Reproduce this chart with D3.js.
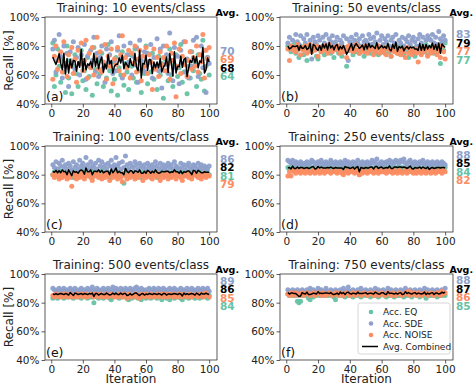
<!DOCTYPE html>
<html>
<head>
<meta charset="utf-8">
<script src="https://cdn.jsdelivr.net/npm/d3@7"></script>
<style>
  body { margin: 0; background: #fff; }
  svg { font-family: "DejaVu Sans", sans-serif; }
</style>
</head>
<body>
<div id="chart-area"></div>
<script>

// ---- DATA ----

let trainSizes = [10, 50, 100, 250, 500, 750];
let panelLetters = ["(a)", "(b)", "(c)", "(d)", "(e)", "(f)"];
let yTicks = [40, 60, 80, 100];
let xTicks = [0, 20, 40, 60, 80, 100];

// averages printed at the right of each panel
let avgEQ    = [64, 77, 81, 84, 84, 85];
let avgSDE   = [70, 83, 86, 88, 89, 88];
let avgNOISE = [69, 77, 79, 82, 85, 86];
let avgComb  = [68, 79, 82, 85, 86, 87];

// 10 events/class
let eq10 = [82,52,60,78,66,55,71,62,48,80, 58,70,47,66,74,61,52,68,77,56, 63,50,72,59,66,46,79,64,54,70,
  61,75,52,67,58,81,63,49,69,57, 72,46,65,60,76,53,68,62,50,74, 66,58,78,55,63,70,48,67,61,80,
  54,69,62,75,57,65,50,73,60,68, 44,71,63,56,78,60,52,67,74,59, 65,81,55,62,70,47,66,58,76,63,
  69,52,74,61,57,84,49,66,72,60];
let sde10 = [78,84,62,70,88,73,58,80,66,75, 52,76,69,83,64,72,79,60,74,68, 81,57,73,66,77,70,86,62,75,59,
  72,80,65,55,78,68,74,83,61,70, 63,77,87,71,58,80,66,74,69,82, 60,73,67,79,55,84,70,64,76,62,
  75,69,81,58,72,66,85,63,78,51, 80,67,74,61,89,70,56,79,65,73, 54,77,68,83,62,71,58,76,66,84,
  70,86,59,74,80,65,77,48,72,68];
let noise10 = [57,73,80,64,70,76,62,83,68,59, 74,66,79,61,71,55,77,68,82,63, 70,84,58,75,65,79,60,72,86,64,
  76,62,69,81,57,73,66,78,54,71, 67,79,63,74,87,60,72,65,77,58, 75,68,80,62,71,77,56,73,66,79,
  61,74,69,50,78,64,72,59,76,67, 72,63,80,68,57,75,70,82,45,66, 78,61,73,67,83,59,70,76,64,72,
  66,80,62,74,69,88,58,77,71,79];

// 50 events/class
let eq50 = [80,78,76,79,81,75,77,72,80,78, 74,79,70,77,80,76,78,81,73,71, 78,76,80,74,79,77,81,75,78,72,
  79,77,75,80,73,78,76,66,79,77, 80,74,78,76,81,75,79,77,73,80, 77,79,75,81,78,76,80,74,78,77,
  79,75,78,80,76,73,79,77,81,75, 78,80,76,74,79,77,72,80,78,76, 73,79,77,80,75,78,76,81,74,79,
  77,80,75,78,76,79,68,81,77,82];
let sde50 = [82,86,80,84,79,88,83,81,87,78, 85,82,88,80,84,71,86,83,81,87, 84,79,86,82,88,80,85,83,87,81,
  83,86,80,84,82,87,79,85,70,83, 86,81,84,88,82,85,80,87,83,84, 82,88,85,81,86,83,89,80,84,87,
  81,85,83,87,80,84,86,82,88,79, 84,82,86,80,85,83,87,81,84,86, 83,80,85,88,82,86,79,84,87,85,
  84,88,82,86,81,90,85,83,87,84];
let noise50 = [78,70,80,77,79,76,81,78,74,79, 77,80,75,78,81,76,79,77,80,73, 79,76,78,80,77,75,81,78,76,79,
  78,80,77,75,79,76,78,72,80,77, 79,76,78,81,77,75,79,78,76,80, 75,78,77,79,74,76,78,80,75,77,
  76,79,74,78,77,73,78,76,79,75, 77,74,78,76,72,79,75,77,74,76, 78,75,69,77,74,79,76,78,73,77,
  75,78,76,79,74,77,72,80,76,71];

// 100 events/class
let eq100 = [80,82,79,81,83,78,82,80,81,79, 82,80,83,78,81,82,79,80,83,81, 79,82,80,81,83,78,82,80,81,82,
  80,83,79,81,82,80,78,82,81,80, 83,81,79,82,80,74,81,83,80,82, 81,79,82,80,83,81,78,82,80,81,
  82,80,81,83,79,82,78,81,80,82, 81,83,80,82,79,81,82,80,83,81, 80,82,81,79,83,80,82,81,79,82,
  81,80,83,82,80,81,79,82,81,80];
let sde100 = [87,85,89,84,88,86,90,85,87,84, 88,86,83,89,85,87,84,90,86,88, 85,92,87,84,89,86,85,88,84,90,
  86,89,85,87,84,88,86,90,85,87, 92,86,88,84,89,85,93,87,84,88, 86,85,89,87,84,88,86,85,87,84,
  88,86,84,87,85,89,86,84,88,85, 87,84,86,88,85,87,84,89,86,85, 84,88,85,87,83,86,88,85,84,87,
  86,84,88,85,87,84,86,85,84,86];
let noise100 = [80,78,81,79,77,80,78,81,79,77, 80,78,72,81,79,77,80,78,81,79, 77,80,79,81,78,76,80,79,81,78,
  79,77,80,78,81,79,76,80,78,81, 79,77,80,78,75,81,79,77,80,78, 81,79,77,80,78,81,79,76,80,78,
  79,81,78,77,80,79,81,78,76,80, 78,79,81,77,80,78,79,81,77,80, 79,78,76,80,79,81,78,79,77,80,
  81,79,78,80,77,79,81,78,80,79];

// 250 events/class
let eq250 = [85,84,85,85,84,83,85,84,85,84, 84,85,83,84,85,84,85,83,84,85, 85,84,84,85,83,85,84,85,84,83,
  84,85,84,83,85,84,85,84,85,84, 83,85,84,85,84,80,85,84,83,85, 84,85,85,84,83,85,84,85,84,85,
  84,83,85,84,85,84,83,85,84,85, 85,84,85,83,84,85,84,85,83,84, 84,85,84,85,84,83,85,84,85,82,
  85,84,83,85,84,85,84,85,84,85];
let sde250 = [90,89,88,90,87,89,88,87,89,88, 87,88,89,87,88,90,89,88,87,89, 88,90,87,88,89,87,88,90,88,87,
  89,88,87,89,88,87,90,88,89,87, 88,89,87,88,90,86,88,89,87,88, 89,87,88,90,88,89,91,87,88,89,
  87,88,89,88,90,87,89,88,90,89, 88,90,89,91,88,87,89,90,88,87, 89,88,87,89,88,90,87,88,89,86,
  88,89,87,88,89,87,88,89,88,87];
let noise250 = [79,82,79,83,82,81,83,82,81,83, 82,81,83,82,81,82,83,81,82,83, 81,82,83,81,82,83,82,81,82,83,
  82,81,83,82,81,80,82,83,81,82, 83,82,81,82,83,80,82,81,83,82, 81,82,83,82,81,83,82,81,83,82,
  82,83,81,82,83,82,81,83,82,81, 83,82,81,82,83,81,82,83,82,81, 82,81,83,82,81,83,82,81,82,83,
  81,82,83,81,82,83,82,81,83,82];

// 500 events/class
let eq500 = [83,84,85,83,84,85,84,83,85,84, 84,85,84,83,85,84,85,84,83,85, 85,84,83,85,84,84,80,85,84,83,
  84,85,83,84,85,84,83,82,84,85, 85,84,83,85,84,85,84,83,82,84, 83,85,84,85,83,84,82,85,84,83,
  84,85,83,84,85,84,83,85,84,82, 85,84,83,85,82,84,85,83,84,85, 84,83,82,85,84,85,83,84,85,84,
  83,85,84,83,85,84,85,84,83,85];
let sde500 = [90,89,88,89,90,88,89,90,88,89, 88,90,89,88,90,89,88,89,90,88, 89,88,90,89,88,91,89,88,90,89,
  88,89,90,88,89,90,88,89,91,88, 90,89,88,90,89,88,90,89,88,90, 89,88,90,91,89,88,90,89,88,89,
  88,90,89,88,90,89,88,90,89,88, 90,89,88,89,90,88,89,90,89,88, 89,90,88,89,88,90,89,88,90,89,
  88,89,90,88,89,90,88,89,90,88];
let noise500 = [85,84,86,85,84,86,85,84,86,85, 84,86,85,84,85,86,84,85,86,84, 85,86,84,85,86,85,84,86,85,84,
  86,85,84,85,86,84,85,86,85,84, 85,84,86,85,84,86,85,83,86,85, 84,85,86,84,85,83,86,85,84,86,
  85,84,86,85,84,85,86,84,85,86, 84,86,85,84,86,85,84,86,85,84, 86,85,84,86,85,84,85,86,84,85,
  85,86,84,85,86,84,85,87,85,84];

// 750 events/class
let eq750 = [86,85,86,85,86,85,81,80,81,85, 86,85,86,83,82,85,84,86,85,86, 85,86,85,86,85,86,85,86,85,84,
  82,86,85,86,85,86,84,86,85,86, 85,84,86,85,86,85,84,86,85,86, 85,86,84,85,86,85,86,84,85,86,
  86,85,84,86,85,86,85,84,86,85, 85,86,85,84,86,85,86,85,84,86, 86,85,86,84,85,86,85,83,86,85,
  85,86,85,86,84,85,86,85,86,85];
let sde750 = [89,88,87,89,88,87,89,88,87,89, 88,87,89,88,90,87,89,88,87,90, 88,89,87,88,90,88,87,89,88,87,
  89,88,87,89,88,90,87,88,91,88, 87,89,88,87,89,88,90,87,88,89, 88,87,89,88,87,90,88,89,87,88,
  89,88,87,90,88,89,87,88,89,87, 88,89,87,88,90,88,87,89,88,87, 89,88,87,89,88,87,90,88,89,87,
  88,89,87,88,89,87,88,89,88,90];
let noise750 = [86,85,87,86,85,87,86,85,86,87, 85,86,87,86,85,86,87,85,86,87, 86,85,87,86,85,86,87,86,85,86,
  87,86,85,87,86,85,86,87,86,85, 86,87,85,86,87,86,85,86,87,86, 85,86,87,86,85,87,86,85,86,87,
  86,85,86,87,86,85,87,86,85,86, 87,86,85,86,87,86,88,85,86,87, 86,85,87,86,85,86,87,86,85,86,
  87,86,85,86,87,86,85,88,86,87];

let eqSeries    = [eq10, eq50, eq100, eq250, eq500, eq750];
let sdeSeries   = [sde10, sde50, sde100, sde250, sde500, sde750];
let noiseSeries = [noise10, noise50, noise100, noise250, noise500, noise750];


// ---- CHART AREA ----

let width = 474, height = 386;
let colors = {eq: "#66c2a5", sde: "#8da0cb", noise: "#fc8d62", comb: "#000"};

// plot boxes of the 2 x 3 grid
let cols = [{x0: 45, x1: 217}, {x0: 280, x1: 453}];
let rows = [{y0: 17, y1: 104}, {y0: 146, y1: 232}, {y0: 274, y1: 360}];

let svg = d3.select("#chart-area").append("svg")
	.attr("width", width)
	.attr("height", height);

trainSizes.forEach(function(size, i) {
	let c = cols[i % 2], r = rows[Math.floor(i / 2)];

	let xScale = d3.scaleLinear().domain([-3.95, 104.95]).range([c.x0, c.x1]);
	let yScale = d3.scaleLinear().domain([40, 100]).range([r.y1, r.y0]);

	let g = svg.append("g");

	// axes
	let xAxis = d3.axisBottom(xScale).tickValues(xTicks).tickSize(3.5).tickPadding(2);
	let yAxis = d3.axisLeft(yScale).tickValues(yTicks).tickSize(3.5).tickPadding(2)
		.tickFormat(d => d + "%");

	g.append("g").attr("transform", "translate(0," + r.y1 + ")").call(xAxis);
	g.append("g").attr("transform", "translate(" + c.x0 + ",0)").call(yAxis);
	g.selectAll(".domain").remove();
	g.selectAll(".tick line").attr("stroke", "#333").attr("stroke-width", 0.8);
	g.selectAll(".tick text").attr("fill", "#222").style("font-size", "10.5px")
		.style("font-family", "DejaVu Sans");

	// points
	let iters = d3.range(1, 101);
	[[eqSeries[i], colors.eq], [sdeSeries[i], colors.sde], [noiseSeries[i], colors.noise]].forEach(function(s) {
		g.append("g").selectAll("circle")
			.data(s[0])
			.enter()
			.append("circle")
			.attr("cx", (d, k) => xScale(iters[k]))
			.attr("cy", d => yScale(d))
			.attr("r", 2.5)
			.attr("fill", s[1])
			.attr("opacity", 0.95);
	});

	// combined average line = mean of the three accuracies
	let comb = iters.map((it, k) => (eqSeries[i][k] + sdeSeries[i][k] + noiseSeries[i][k]) / 3);
	g.append("path")
		.datum(comb)
		.attr("fill", "none")
		.attr("stroke", colors.comb)
		.attr("stroke-width", 1.5)
		.attr("stroke-linejoin", "round")
		.attr("d", d3.line().x((d, k) => xScale(iters[k])).y(d => yScale(d)));

	// frame
	g.append("rect")
		.attr("x", c.x0).attr("y", r.y0)
		.attr("width", c.x1 - c.x0).attr("height", r.y1 - r.y0)
		.attr("fill", "none").attr("stroke", "#333").attr("stroke-width", 0.8);

	// title
	g.append("text")
		.attr("x", (c.x0 + c.x1) / 2)
		.attr("y", r.y0 - 5)
		.attr("text-anchor", "middle")
		.style("font-size", "12px")
		.attr("fill", "#222")
		.text("Training: " + size + " events/class");

	// panel letter
	g.append("text")
		.attr("x", c.x0 + 1)
		.attr("y", r.y1 - 3)
		.style("font-size", "12.5px")
		.attr("fill", "#111")
		.text(panelLetters[i]);

	// averages at the right side
	g.append("text")
		.attr("x", Math.min(c.x1 + 22, width - 1))
		.attr("y", r.y0 - 1)
		.attr("text-anchor", "end")
		.style("font-size", "9.5px")
		.style("font-weight", "bold")
		.text("Avg.");

	let labels = [
		{v: avgSDE[i], c: colors.sde},
		{v: avgNOISE[i], c: colors.noise},
		{v: avgComb[i], c: colors.comb},
		{v: avgEQ[i], c: colors.eq}
	].sort((a, b) => b.v - a.v);

	let gap = 8.5;
	let pos = labels.map(l => yScale(l.v));
	let meanIdeal = d3.mean(pos);
	for (let k = 1; k < pos.length; k++) {
		if (pos[k] - pos[k - 1] < gap) pos[k] = pos[k - 1] + gap;
	}
	let shift = meanIdeal - d3.mean(pos);
	labels.forEach(function(l, k) {
		g.append("text")
			.attr("x", c.x1 + 3)
			.attr("y", pos[k] + shift)
			.attr("dy", "0.35em")
			.style("font-size", "10.5px")
			.style("font-weight", "bold")
			.attr("fill", l.c)
			.text(l.v);
	});

	// y label on the left column
	if (i % 2 == 0) {
		g.append("text")
			.attr("transform", "translate(" + 13 + "," + ((r.y0 + r.y1) / 2) + ") rotate(-90)")
			.attr("text-anchor", "middle")
			.style("font-size", "12px")
			.attr("fill", "#222")
			.text("Recall [%]");
	}
	// x label on the bottom row
	if (i >= 4) {
		g.append("text")
			.attr("x", (c.x0 + c.x1) / 2)
			.attr("y", r.y1 + 23)
			.attr("text-anchor", "middle")
			.style("font-size", "12px")
			.attr("fill", "#222")
			.text("Iteration");
	}

	// legend in the last panel
	if (i == 5) {
		let lx = c.x1 - 95, ly = r.y1 - 57;
		let lg = g.append("g").attr("transform", "translate(" + lx + "," + ly + ")");
		lg.append("rect")
			.attr("width", 92).attr("height", 51).attr("rx", 2.5)
			.attr("fill", "#fff").attr("fill-opacity", 0.85)
			.attr("stroke", "#ccc").attr("stroke-width", 0.8);
		let entries = [
			{name: "Acc. EQ", c: colors.eq, type: "dot"},
			{name: "Acc. SDE", c: colors.sde, type: "dot"},
			{name: "Acc. NOISE", c: colors.noise, type: "dot"},
			{name: "Avg. Combined", c: colors.comb, type: "line"}
		];
		entries.forEach(function(e, k) {
			let ey = 9 + k * 11.5;
			if (e.type == "dot") {
				lg.append("circle").attr("cx", 13).attr("cy", ey).attr("r", 2.3).attr("fill", e.c);
			} else {
				lg.append("line").attr("x1", 4).attr("x2", 20).attr("y1", ey).attr("y2", ey)
					.attr("stroke", e.c).attr("stroke-width", 1.5);
			}
			lg.append("text")
				.attr("x", 25).attr("y", ey).attr("dy", "0.35em")
				.style("font-size", "9px")
				.attr("fill", "#222")
				.text(e.name);
		});
	}
});

</script>
</body>
</html>
